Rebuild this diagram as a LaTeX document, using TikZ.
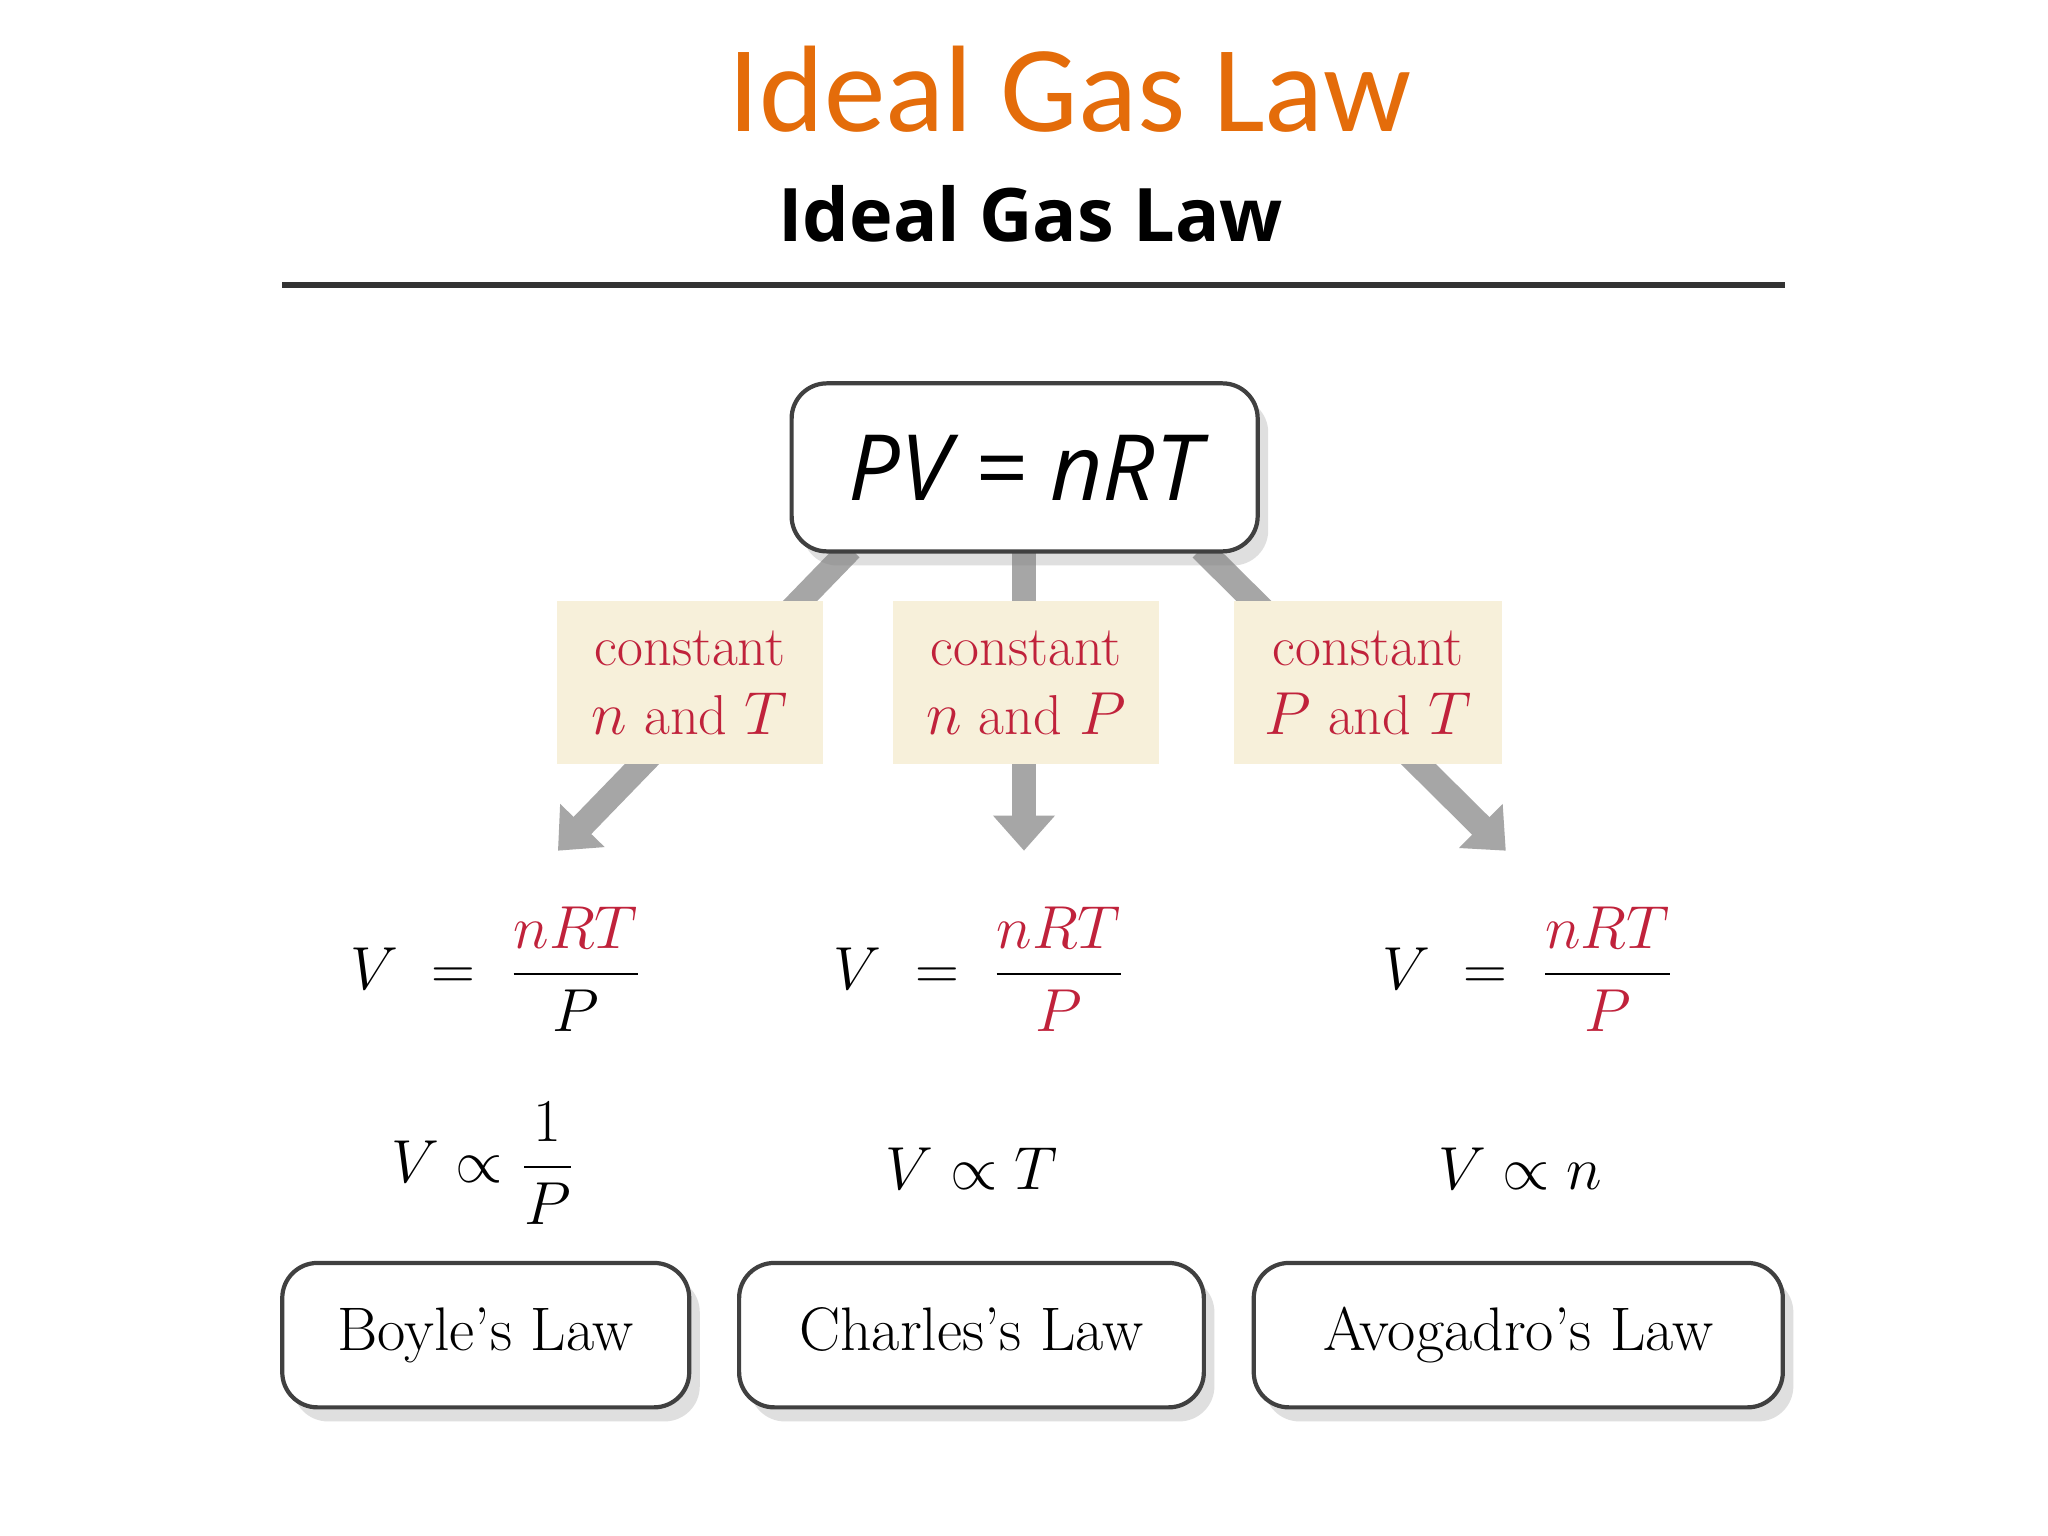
\documentclass[tikz,border=0pt]{standalone}
\usepackage{fontspec}
\usepackage{amsmath}
\newfontfamily\carl{Carlito}
\newfontfamily\osans{Open Sans}
\usetikzlibrary{arrows.meta,shadows}
\definecolor{ttl}{HTML}{E46C0A}
\definecolor{cred}{HTML}{C0223B}
\definecolor{cyel}{HTML}{F7F0DA}
\definecolor{agray}{HTML}{A6A6A6}
\tikzset{
  lawbox/.style={draw=black!75, line width=1.2pt, rounded corners=10pt, fill=white, text height=12pt, text depth=3pt, drop shadow={shadow xshift=3pt, shadow yshift=-4pt, opacity=0.25}},
  condbox/.style={fill=cyel, text=cred, align=center, font=\fontsize{16}{19.5}\selectfont, inner sep=0pt},
  bigarrow/.style={draw=agray, line width=7pt, -{Triangle[width=17pt,length=10pt]}},
  eq/.style={font=\fontsize{16.5}{20}\selectfont},
}
\begin{document}
\begin{tikzpicture}[x=0.013128cm, y=-0.013128cm]
\useasboundingbox (0,0) rectangle (1560,1170);
\fill[white] (0,0) rectangle (1560,1170);
\node (title) at (815,68) {\carl\fontsize{35}{40}\selectfont\color{ttl}Ideal Gas Law};
\node (sub) at (785,163) {\osans\bfseries\fontsize{21}{25}\selectfont Ideal Gas Law};
\coordinate (l1) at (215,217); \coordinate (l2) at (1360,217);
\draw[black!80, line width=1.5pt] (l1) -- (l2);
% arrows
\coordinate (a1s) at (648,418); \coordinate (a1e) at (425,648);
\coordinate (a2s) at (780,418); \coordinate (a2e) at (780,648);
\coordinate (a3s) at (915,418); \coordinate (a3e) at (1147,648);
\draw[bigarrow] (a1s) -- (a1e);
\draw[bigarrow] (a2s) -- (a2e);
\draw[bigarrow] (a3s) -- (a3e);
% condition boxes
\node[condbox, minimum width=203*0.013128cm, minimum height=124*0.013128cm] (c1) at (525.5,520) {constant\\$n$ and $T$};
\node[condbox, minimum width=203*0.013128cm, minimum height=124*0.013128cm] (c2) at (781.5,520) {constant\\$n$ and $P$};
\node[condbox, minimum width=204*0.013128cm, minimum height=124*0.013128cm] (c3) at (1042,520) {constant\\$P$ and $T$};
% top box
\node[lawbox, text height=, text depth=, minimum width=355*0.013128cm, minimum height=128*0.013128cm] (top) at (780.5,356) {\osans\itshape\fontsize{26}{30}\selectfont PV = nRT};
% equations
\node[eq] (e1) at (378,738) {$V \;=\; \dfrac{\color{cred}nRT}{P}$};
\node[eq] (e2) at (746,738) {$V \;=\; \dfrac{\color{cred}nRT}{\color{cred}P}$};
\node[eq] (e3) at (1164,738) {$V \;=\; \dfrac{\color{cred}nRT}{\color{cred}P}$};
\node[eq] (p1) at (368,886) {$V \propto \dfrac{1}{P}$};
\node[eq] (p2) at (740,890) {$V \propto T$};
\node[eq] (p3) at (1158,890) {$V \propto n$};
% law boxes
\node[lawbox, minimum width=310*0.013128cm, minimum height=110*0.013128cm, font=\fontsize{17.5}{20}\selectfont] (b1) at (370,1017) {Boyle’s Law};
\node[lawbox, minimum width=354*0.013128cm, minimum height=110*0.013128cm, font=\fontsize{17.5}{20}\selectfont] (b2) at (740,1017) {Charles’s Law};
\node[lawbox, minimum width=403*0.013128cm, minimum height=110*0.013128cm, font=\fontsize{17.5}{20}\selectfont] (b3) at (1156.5,1017) {Avogadro’s Law};
\end{tikzpicture}
\end{document}
